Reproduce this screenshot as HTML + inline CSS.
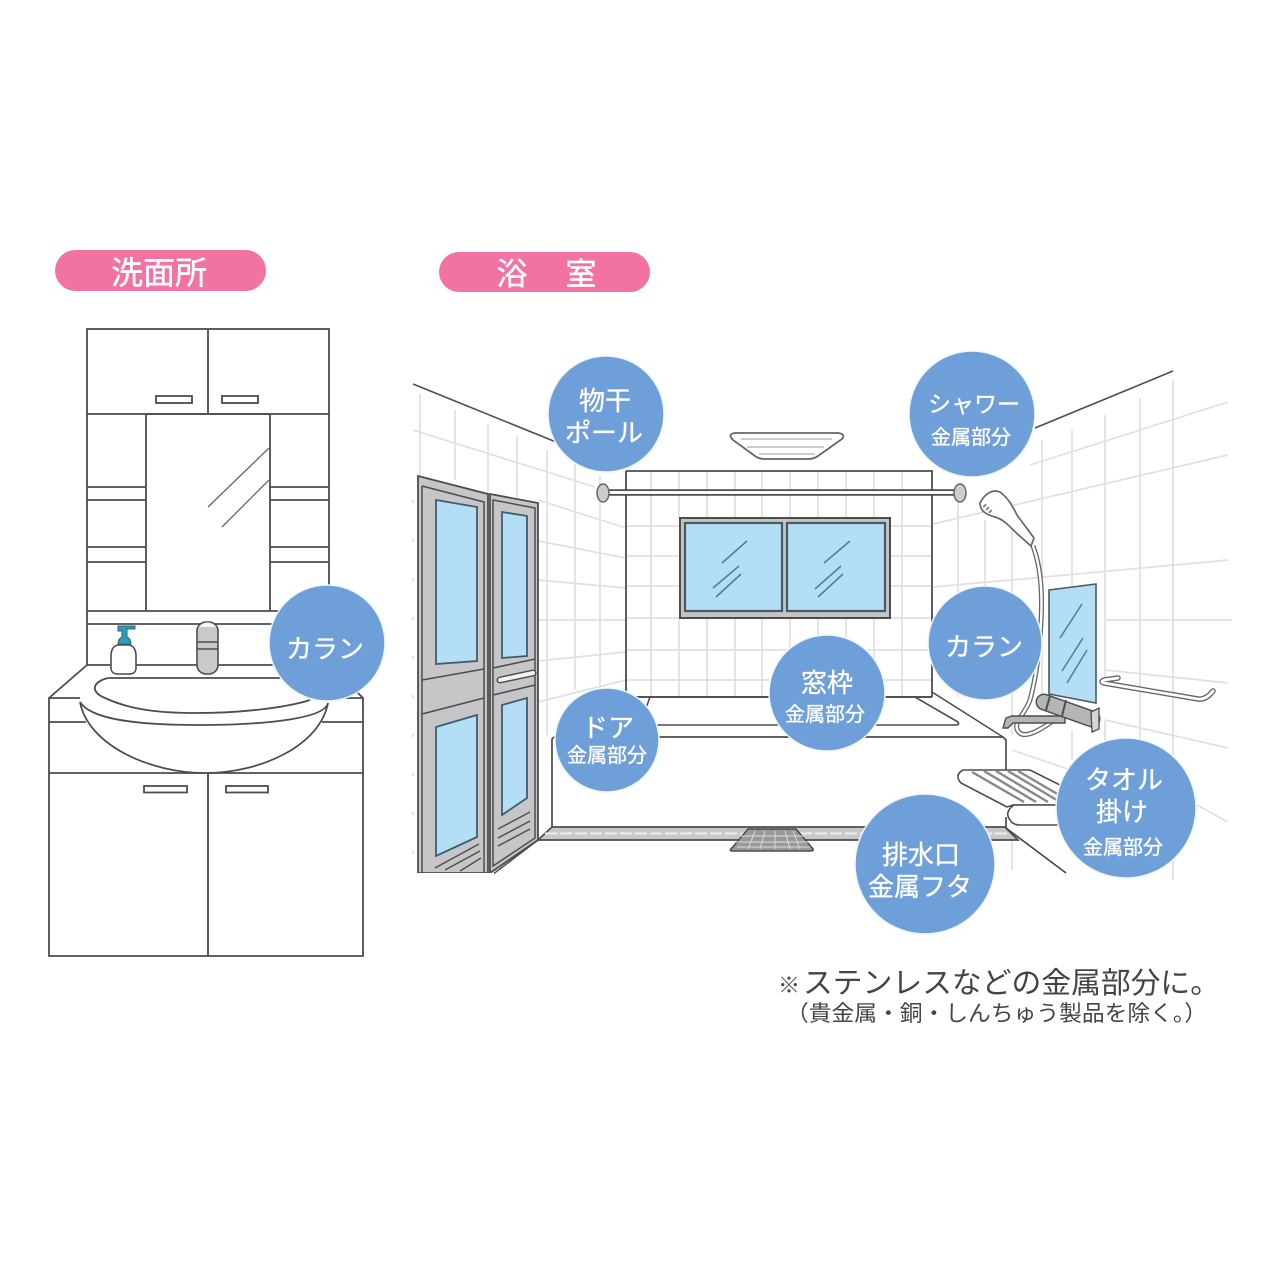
<!DOCTYPE html>
<html lang="ja"><head><meta charset="utf-8"><title>洗面所・浴室</title>
<style>html,body{margin:0;padding:0;background:#fff}svg{display:block}
text{font-family:"Liberation Sans","Noto Sans CJK JP",sans-serif}</style></head><body>
<svg xmlns="http://www.w3.org/2000/svg" width="1280" height="1280" viewBox="0 0 1280 1280">
<rect width="1280" height="1280" fill="#fff"/>
<!-- pills -->
<rect x="55" y="250" width="211" height="41" rx="20.5" fill="#f273a3"/>
<rect x="439" y="252" width="211" height="40" rx="20" fill="#f273a3"/>
<g fill="#fff" stroke="#fff" stroke-width=".4">
<text x="159" y="284" font-size="32" text-anchor="middle">洗面所</text>
<text x="512" y="285" font-size="31" text-anchor="middle">浴</text>
<text x="581" y="285" font-size="31" text-anchor="middle">室</text>
</g>

<!-- vanity -->
<g fill="none" stroke="#4d4d4d" stroke-width="1.8">
<rect x="87" y="329" width="242" height="85"/>
<path d="M208 329V414M87 414V665M329 414V600M146 414V611M270 414V611M146 414H270"/>
<path d="M87 487H146M87 500H146M87 547H146M87 562H146M270 487H329M270 500H329M270 547H329M270 562H329M87 611H290M87 624H280M87 665H290"/>
<rect x="156" y="396" width="36" height="7"/><rect x="222" y="396" width="36" height="7"/>
<path d="M87 665L49 698V956H363V698L357 692"/>
<path d="M49 698H80M335 698H363M49 722H86M322 722H363M49 773H363M208 773V956"/>
<path d="M80 702C88 745 150 773 205 773C262 773 320 745 328 703Z" fill="#fff" stroke="none"/>
<path d="M80 702C88 745 150 773 205 773C262 773 320 745 328 703"/>
<path d="M80 702C90 718 130 725 197 725C270 725 325 718 328 703"/>
<path d="M108 678H300"/>
<path d="M108 678C92 682 90 692 105 698C135 712 170 713 197 713C240 713 285 708 310 700"/>
<rect x="144" y="786" width="43" height="6.5"/><rect x="226" y="786" width="42" height="6.5"/>
</g>
<path d="M208 507L269 448M222 527L269 480" stroke="#666" stroke-width="1.3" fill="none"/>
<!-- bottle -->
<path d="M111 668V656C111 649 114 645 119 645H128C133 645 136 649 136 656V668C136 672 133 674 129 674H118C114 674 111 672 111 668Z" fill="#fff" stroke="#4d4d4d" stroke-width="1.6"/>
<path d="M118 644C118 640 120 638 122 637V631H118V626H135V629H127V637C129 638 131 640 131 644Z" fill="#2d9cb4" stroke="#33617a"/>
<!-- faucet -->
<rect x="197" y="622" width="21" height="52" rx="9" fill="#c9c9c9" stroke="#4d4d4d" stroke-width="1.6"/>
<path d="M198.5 627Q207 618 216.5 627Z" fill="#f4f4f4"/>
<path d="M197 642H218M197 649H218" stroke="#4d4d4d" stroke-width="1.4"/>

<!-- tile lines -->
<g fill="none" stroke="#e0e0e0" stroke-width="1.7">
<path d="M420 394V476M455 410V480M488 424V495M517 436V505M547 450V735M575 464V690M600 476V690"/>
<path d="M413 430L595 487M538 500L626 528M538 541L626 558M538 580L626 588M538 620H626M538 661L626 652M538 702L626 680"/>
<path d="M413 500V870" stroke-dasharray="3 36" stroke="#ddd"/>
<path d="M651 472V697M679 472V518M707 472V518M735 472V518M762 472V518M790 472V518M818 472V518M846 472V518M874 472V518M902 472V697M679 618V697M707 618V697M735 618V697M762 618V697M790 618V697M818 618V697M846 618V697M874 618V697"/>
<path d="M627 526H680M627 556H680M627 586H680M627 618H932M627 650H932M627 680H932M890 526H932M890 556H932M890 586H932"/>
<path d="M958 490V697M985 520V600M1012 510V735M1042 440V700M1072 430V590M1105 415V680M1140 398V690M1173 380V880M1105 720V780M1140 690V770M1072 730V760M1012 840V870"/>
<path d="M933 524L1228 455M932 587L1045 577L1228 560M1030 465L1228 402M1105 620H1232M1105 670L1228 683M1105 720L1228 748M1193 803L1228 822M1012 750L1100 780"/>
</g>

<!-- room lines -->
<g fill="none" stroke="#4d4d4d" stroke-width="1.8">
<path d="M413 384L556 442" stroke-width="1.6"/>
<path d="M1035 428L1173 371" stroke-width="1.6"/>
<path d="M626 471H932V697M626 471V697H932"/>
</g>

<!-- vent -->
<path d="M735 433H838Q846 434 842 439L818 456Q814 459 808 459H765Q759 459 755 456L733 440Q727 434 735 433Z" fill="#fff" stroke="#666" stroke-width="1.8"/>
<path d="M741 439H832M747 447H824M759 454H815" stroke="#bbb" stroke-width="1.5"/>

<!-- rod -->
<path d="M604 492.5H958" stroke="#4d4d4d" stroke-width="6.5"/>
<path d="M604 492.5H958" stroke="#fff" stroke-width="3"/>
<ellipse cx="603" cy="493" rx="6" ry="9" fill="#ccc" stroke="#666" stroke-width="1.5"/>
<ellipse cx="960" cy="493" rx="6" ry="9" fill="#ccc" stroke="#666" stroke-width="1.5"/>

<!-- window -->
<rect x="680" y="518" width="210" height="100" fill="#c4c4c4" stroke="#4d4d4d" stroke-width="2"/>
<rect x="685" y="523" width="97" height="88" fill="#b3def5" stroke="#4a5a64" stroke-width="2.2"/>
<rect x="787" y="523" width="98" height="88" fill="#b3def5" stroke="#4a5a64" stroke-width="2.2"/>
<path d="M722 563L747 541M713 588L739 566M716 597L741 574M824 563L850 541M815 589L841 566M818 597L843 574" stroke="#4f7f96" stroke-width="1.6"/>

<!-- tub -->
<path d="M650 697H915L958 722Q960 725 955 725H640Z" fill="#fff" stroke="#4d4d4d" stroke-width="1.6"/>
<path d="M932 692L1003 737" stroke="#4d4d4d" stroke-width="1.6"/>
<rect x="552" y="737" width="454" height="90" fill="#fff"/>
<path d="M552 827V740Q552 737 556 737H1003L1006 740V770M628 697H932" fill="none" stroke="#4d4d4d" stroke-width="1.7"/>
<path d="M538 840L552 827H1005L1018 840Z" fill="#c8c8c8" stroke="#4d4d4d" stroke-width="1.7"/>
<path d="M545 833.5H1010" stroke="#eee" stroke-width="2" stroke-dasharray="12 3"/>
<!-- drain -->
<path d="M748 829H796L813 849Q814 851 810 851H733Q729 851 731 849Z" fill="#999" stroke="#4d4d4d" stroke-width="1.6"/>
<path d="M740 836H805M735 842H808M737 847H810" stroke="#ddd" stroke-width="1"/>
<path d="M755 831L748 849M765 831L760 849M775 831L775 849M785 831L790 849M793 831L800 849" stroke="#ddd" stroke-width="1"/>

<!-- door -->
<path d="M418 476L488 494V873H418Z" fill="#c6c6c8" stroke="#4d4d4d" stroke-width="1.8"/>
<path d="M422 486L484 502V873M422 486V873" fill="none" stroke="#4d4d4d" stroke-width="1.5"/>
<path d="M490 494L538 503V840L490 873Z" fill="#c6c6c8" stroke="#4d4d4d" stroke-width="1.8"/>
<path d="M493 500L535 508V838L493 866Z" fill="none" stroke="#4d4d4d" stroke-width="1.5"/>
<path d="M422 680L484 669M422 714L484 698M493 668L535 659M493 695L535 685" stroke="#4d4d4d" stroke-width="1.6" fill="none"/>
<path d="M436 500L477 507V661L436 664Z" fill="#b3def5" stroke="#3f5d6e" stroke-width="1.8"/>
<path d="M436 727L477 715V837L436 856Z" fill="#b3def5" stroke="#3f5d6e" stroke-width="1.8"/>
<path d="M502 512L527 516V656L502 658Z" fill="#b3def5" stroke="#3f5d6e" stroke-width="1.8"/>
<path d="M502 705L527 698V798L502 815Z" fill="#b3def5" stroke="#3f5d6e" stroke-width="1.8"/>
<path d="M500 680L533 673" stroke="#4d4d4d" stroke-width="7" stroke-linecap="round"/>
<path d="M500 680L533 673" stroke="#f4f4f4" stroke-width="4" stroke-linecap="round"/>
<path d="M498 829L530 812M498 838L530 821M498 846L530 829M435 868L479 844M445 870L480 851M460 871L481 858" stroke="#4d4d4d" stroke-width="1.4" fill="none"/>
<path d="M488 878L538 840" stroke="#4d4d4d" stroke-width="1.5"/>
<rect x="414" y="873" width="80" height="10" fill="#fff"/>

<!-- shower -->
<path d="M1033 546C1042 570 1043 600 1040 637C1038 665 1034 685 1030 700C1026 712 1014 722 1017 729C1021 740 1036 734 1058 717" fill="none" stroke="#666" stroke-width="5"/>
<path d="M1033 546C1042 570 1043 600 1040 637C1038 665 1034 685 1030 700C1026 712 1014 722 1017 729C1021 740 1036 734 1058 717" fill="none" stroke="#fff" stroke-width="2.4"/>
<path d="M980 503C985 493 993 489 1000 492C1008 498 1012 505 1017 515L1034 538L1031 546L1022 538C1012 530 1006 520 995 517C988 515 980 512 980 503Z" fill="#fff" stroke="#666" stroke-width="1.7"/>
<path d="M984 505L992 513" stroke="#888" stroke-width="4" stroke-dasharray="2 2"/>
<!-- mirror -->
<path d="M1049 590L1096 584V703L1049 694Z" fill="#b3def5" stroke="#4a5a64" stroke-width="1.6"/>
<path d="M1060 638L1082 604M1062 671L1083 638M1067 683L1087 650" stroke="#4f7f96" stroke-width="1.5"/>
<!-- mixer -->
<path d="M1003 728L1006 718L1012 716H1065V723H1013L1008 728Z" fill="#b5b5b5" stroke="#4d4d4d" stroke-width="1.4"/>
<path d="M1044 702L1092 719" stroke="#4d4d4d" stroke-width="17" stroke-linecap="round"/>
<path d="M1044 702L1092 719" stroke="#b5b5b5" stroke-width="14" stroke-linecap="round"/>
<path d="M1091 712L1099 708V729L1092 732Z" fill="#d5d5d5" stroke="#4d4d4d" stroke-width="1.3"/>
<path d="M1050 696L1046 710M1066 700L1062 716" stroke="#4d4d4d" stroke-width="2"/>
<!-- towel bar -->
<path d="M1118 678L1104 680Q1100 682 1104 683L1198 699Q1206 700 1213 691" fill="none" stroke="#666" stroke-width="5.5" stroke-linecap="round"/>
<path d="M1118 678L1104 680Q1100 682 1104 683L1198 699Q1206 700 1213 691" fill="none" stroke="#fff" stroke-width="2.8" stroke-linecap="round"/>
<!-- seat -->
<path d="M963 770H1030L1070 790V805H1013L1007 807L961 783Q954 775 963 770Z" fill="#fff" stroke="#4d4d4d" stroke-width="1.6"/>
<path d="M972 772L1024 802M984 771L1036 802M996 771L1048 802M1008 771L1060 802M1018 771L1066 799" stroke="#888" stroke-width="2.4"/>
<path d="M1070 805H1014Q1004 812 1010 820Q1013 825 1020 825H1070Z" fill="#fff" stroke="#4d4d4d" stroke-width="1.6"/>
<path d="M1006 817V828L1066 873" fill="none" stroke="#444" stroke-width="1.6"/>

<!-- circles -->
<g fill="#6f9fd8" stroke="#eef7fd" stroke-width="1.5">
<circle cx="327" cy="643" r="58"/>
<circle cx="606" cy="414" r="58"/>
<circle cx="972" cy="414" r="63"/>
<circle cx="985" cy="643" r="57"/>
<circle cx="827" cy="693" r="58"/>
<circle cx="607" cy="740" r="52"/>
<circle cx="1126" cy="808" r="70"/>
<circle cx="925" cy="864" r="70"/>
</g>
<g fill="#fff" stroke="#fff" stroke-width=".35" text-anchor="middle">
<text x="325" y="658" font-size="26">カラン</text>
<text x="605" y="410" font-size="26">物干</text>
<text x="604" y="442" font-size="26">ポール</text>
<text x="974" y="412" font-size="23">シャワー</text>
<text x="971" y="444" font-size="20">金属部分</text>
<text x="984" y="656" font-size="26">カラン</text>
<text x="827" y="692" font-size="26">窓枠</text>
<text x="825" y="721" font-size="20">金属部分</text>
<text x="608" y="737" font-size="26">ドア</text>
<text x="607" y="762" font-size="20">金属部分</text>
<text x="1124" y="789" font-size="26">タオル</text>
<text x="1122" y="821" font-size="26">掛け</text>
<text x="1123" y="854" font-size="20">金属部分</text>
<text x="921" y="864" font-size="26">排水口</text>
<text x="920" y="896" font-size="26">金属フタ</text>
</g>
<text x="778" y="993" font-size="22" fill="#444">※</text>
<text x="803" y="993" font-size="29.8" fill="#444" textLength="417" lengthAdjust="spacingAndGlyphs">ステンレスなどの金属部分に。</text>
<text x="786" y="1021" font-size="22" fill="#444" textLength="421" lengthAdjust="spacingAndGlyphs">（貴金属・銅・しんちゅう製品を除く。）</text>
</svg>
</body></html>
